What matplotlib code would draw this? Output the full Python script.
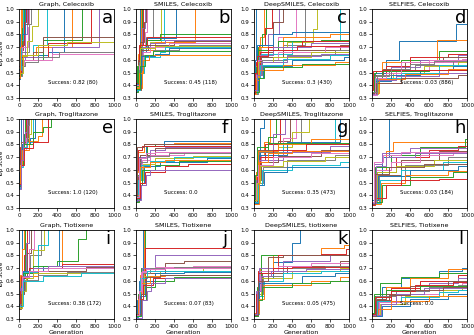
import matplotlib
matplotlib.use("Agg")
import matplotlib.pyplot as plt

# each run: list of [generation, top score] change points (step curves)
runs_a = [
    [[0, 0.45], [8, 0.55], [15, 0.62], [25, 0.78], [45, 1.0]],
    [[0, 0.50], [10, 0.60], [20, 0.70], [30, 1.0]],
    [[0, 0.48], [12, 0.58], [25, 0.65], [35, 0.85], [55, 1.0]],
    [[0, 0.52], [15, 0.62], [30, 0.72], [50, 0.90], [70, 1.0]],
    [[0, 0.50], [20, 0.60], [60, 0.80], [80, 1.0]],
    [[0, 0.47], [10, 0.58], [25, 0.68], [40, 0.88], [95, 1.0]],
    [[0, 0.55], [30, 0.70], [90, 0.86], [110, 1.0]],
    [[0, 0.50], [25, 0.66], [100, 0.88], [130, 1.0]],
    [[0, 0.52], [20, 0.63], [80, 0.75], [140, 0.87], [200, 1.0]],
    [[0, 0.50], [35, 0.62], [150, 0.72], [290, 1.0]],
    [[0, 0.55], [40, 0.60], [200, 0.64], [300, 0.66], [470, 1.0]],
    [[0, 0.50], [30, 0.64], [180, 0.70], [560, 1.0]],
    [[0, 0.48], [25, 0.60], [250, 0.76], [660, 1.0]],
    [[0, 0.50], [20, 0.62], [300, 0.73], [760, 1.0]],
    [[0, 0.52], [40, 0.62], [350, 0.70], [840, 1.0]],
    [[0, 0.50], [30, 0.60], [150, 0.66], [250, 0.78]],
    [[0, 0.55], [50, 0.60], [350, 0.65]],
    [[0, 0.47], [30, 0.55], [60, 0.58], [200, 0.62], [420, 0.66]],
    [[0, 0.50], [40, 0.64], [200, 0.72], [500, 0.74]],
    [[0, 0.53], [20, 0.76], [40, 1.0]],
    [[0, 0.50], [15, 0.80], [60, 1.0]],
    [[0, 0.46], [10, 0.70], [20, 1.0]],
]
runs_b = [
    [[0, 0.35], [10, 0.48], [20, 0.60], [40, 1.0]],
    [[0, 0.40], [12, 0.52], [25, 0.65], [50, 1.0]],
    [[0, 0.38], [15, 0.55], [30, 0.70], [60, 1.0]],
    [[0, 0.42], [18, 0.58], [35, 0.72], [70, 1.0]],
    [[0, 0.36], [20, 0.52], [40, 0.68], [60, 0.85], [90, 1.0]],
    [[0, 0.40], [25, 0.60], [45, 0.74], [80, 0.90], [110, 1.0]],
    [[0, 0.37], [25, 0.55], [50, 0.70], [90, 0.82], [120, 1.0]],
    [[0, 0.40], [30, 0.58], [60, 0.72], [100, 0.78], [180, 1.0]],
    [[0, 0.39], [25, 0.56], [50, 0.72], [150, 0.74], [260, 1.0]],
    [[0, 0.36], [35, 0.55], [70, 0.70], [120, 0.76], [290, 1.0]],
    [[0, 0.40], [45, 0.66], [100, 0.77], [420, 1.0]],
    [[0, 0.38], [60, 0.68], [200, 0.74], [620, 1.0]],
    [[0, 0.35], [25, 0.55], [50, 0.70], [100, 0.76], [250, 0.80]],
    [[0, 0.40], [40, 0.72], [120, 0.78]],
    [[0, 0.38], [30, 0.56], [60, 0.70], [150, 0.73], [300, 0.76]],
    [[0, 0.36], [55, 0.68], [130, 0.72], [400, 0.75]],
    [[0, 0.40], [35, 0.55], [70, 0.66], [150, 0.70], [350, 0.73]],
    [[0, 0.37], [30, 0.52], [60, 0.64], [180, 0.68], [450, 0.72]],
    [[0, 0.39], [40, 0.69], [200, 0.71]],
    [[0, 0.36], [40, 0.50], [80, 0.62], [250, 0.66], [300, 0.70]],
    [[0, 0.41], [50, 0.63], [200, 0.65], [350, 0.69]],
    [[0, 0.38], [35, 0.50], [70, 0.60], [140, 0.64]],
    [[0, 0.37], [45, 0.55], [90, 0.64], [180, 0.67]],
]
runs_c = [
    [[0, 0.35], [10, 0.60], [20, 1.0]],
    [[0, 0.33], [15, 0.50], [30, 0.65], [60, 0.78], [100, 1.0]],
    [[0, 0.36], [20, 0.55], [40, 0.70], [80, 0.80], [130, 1.0]],
    [[0, 0.34], [25, 0.58], [50, 0.72], [120, 0.85], [190, 1.0]],
    [[0, 0.35], [30, 0.55], [60, 0.68], [150, 0.80], [260, 1.0]],
    [[0, 0.33], [20, 0.52], [40, 0.66], [200, 0.90], [300, 1.0]],
    [[0, 0.36], [35, 0.58], [70, 0.70], [250, 0.78], [440, 1.0]],
    [[0, 0.34], [25, 0.50], [50, 0.62], [300, 0.72], [540, 1.0]],
    [[0, 0.35], [30, 0.56], [60, 0.70], [350, 0.74], [620, 0.84], [660, 1.0]],
    [[0, 0.33], [20, 0.52], [40, 0.65], [400, 0.75], [900, 1.0]],
    [[0, 0.35], [15, 0.55], [30, 0.72], [200, 0.80], [400, 0.82]],
    [[0, 0.34], [25, 0.55], [50, 0.70], [300, 0.78], [800, 0.80]],
    [[0, 0.36], [20, 0.54], [40, 0.68], [250, 0.75], [700, 0.76]],
    [[0, 0.33], [30, 0.52], [60, 0.66], [150, 0.70], [500, 0.75]],
    [[0, 0.35], [25, 0.50], [50, 0.64], [200, 0.70], [600, 0.73]],
    [[0, 0.34], [35, 0.50], [70, 0.62], [300, 0.68], [900, 0.72]],
    [[0, 0.36], [20, 0.48], [45, 0.60], [250, 0.66], [750, 0.70]],
    [[0, 0.33], [40, 0.48], [80, 0.60], [350, 0.64], [850, 0.68]],
    [[0, 0.35], [20, 0.46], [40, 0.58], [200, 0.62], [600, 0.66]],
    [[0, 0.34], [30, 0.46], [60, 0.56], [300, 0.61], [800, 0.64]],
    [[0, 0.36], [45, 0.46], [90, 0.55], [400, 0.60], [950, 0.62]],
    [[0, 0.33], [25, 0.44], [50, 0.52], [300, 0.56], [850, 0.58]],
    [[0, 0.35], [50, 0.46], [100, 0.54], [500, 0.57]],
    [[0, 0.34], [15, 0.50], [30, 0.63], [150, 0.68], [450, 0.71]],
    [[0, 0.36], [35, 0.48], [70, 0.58], [350, 0.63], [700, 0.65]],
]
runs_d = [
    [[0, 0.33], [30, 0.50], [150, 0.60], [280, 0.75], [880, 0.88]],
    [[0, 0.33], [20, 0.48], [100, 0.58], [680, 0.76]],
    [[0, 0.32], [20, 0.45], [100, 0.52], [300, 0.60], [700, 0.67]],
    [[0, 0.34], [30, 0.47], [150, 0.55], [400, 0.62], [800, 0.65]],
    [[0, 0.33], [40, 0.46], [200, 0.54], [500, 0.60], [900, 0.64]],
    [[0, 0.35], [25, 0.48], [120, 0.53], [350, 0.58], [750, 0.62]],
    [[0, 0.32], [50, 0.45], [250, 0.52], [600, 0.58], [950, 0.61]],
    [[0, 0.34], [35, 0.47], [180, 0.51], [450, 0.56], [850, 0.60]],
    [[0, 0.33], [60, 0.44], [220, 0.50], [550, 0.55], [900, 0.58]],
    [[0, 0.35], [45, 0.46], [300, 0.50], [700, 0.56]],
    [[0, 0.32], [30, 0.43], [200, 0.48], [500, 0.52], [850, 0.55]],
    [[0, 0.34], [70, 0.45], [350, 0.49], [800, 0.53]],
    [[0, 0.33], [20, 0.50], [40, 0.51], [600, 0.52]],
    [[0, 0.36], [10, 0.51], [100, 0.52]],
    [[0, 0.33], [50, 0.44], [250, 0.47], [700, 0.50]],
    [[0, 0.34], [40, 0.42], [300, 0.46], [900, 0.48]],
    [[0, 0.32], [30, 0.46], [150, 0.50], [300, 0.58], [600, 0.60]],
    [[0, 0.35], [55, 0.48], [200, 0.53], [400, 0.57], [650, 0.59]],
]
runs_e = [
    [[0, 0.45], [5, 0.58], [10, 0.70], [25, 1.0]],
    [[0, 0.50], [8, 0.62], [15, 0.75], [40, 1.0]],
    [[0, 0.48], [10, 0.60], [20, 0.72], [50, 0.88], [60, 1.0]],
    [[0, 0.50], [6, 0.64], [12, 0.78], [70, 1.0]],
    [[0, 0.46], [12, 0.62], [25, 0.80], [60, 0.90], [80, 1.0]],
    [[0, 0.50], [10, 0.66], [20, 0.82], [90, 1.0]],
    [[0, 0.47], [15, 0.62], [30, 0.76], [70, 0.85], [100, 1.0]],
    [[0, 0.49], [12, 0.64], [25, 0.80], [80, 0.95], [110, 1.0]],
    [[0, 0.50], [15, 0.64], [30, 0.77], [100, 0.88], [130, 1.0]],
    [[0, 0.46], [20, 0.62], [40, 0.78], [80, 0.82], [150, 1.0]],
    [[0, 0.48], [18, 0.64], [35, 0.80], [120, 0.85], [170, 1.0]],
    [[0, 0.50], [15, 0.64], [30, 0.76], [100, 0.83], [200, 0.87], [240, 1.0]],
    [[0, 0.47], [20, 0.64], [40, 0.80], [150, 0.90], [250, 0.94], [340, 1.0]],
    [[0, 0.49], [25, 0.64], [50, 0.77], [150, 0.82], [310, 1.0]],
    [[0, 0.45], [20, 0.68], [45, 1.0]],
]
runs_f = [
    [[0, 0.35], [15, 0.55], [30, 0.70], [100, 0.79], [290, 0.83]],
    [[0, 0.38], [12, 0.58], [25, 0.74], [80, 0.80], [400, 0.81]],
    [[0, 0.36], [20, 0.56], [40, 0.72], [120, 0.79], [200, 0.80]],
    [[0, 0.40], [10, 0.60], [20, 0.76], [60, 0.79]],
    [[0, 0.37], [25, 0.55], [50, 0.70], [150, 0.76], [300, 0.78]],
    [[0, 0.35], [20, 0.54], [45, 0.72], [200, 0.77]],
    [[0, 0.39], [30, 0.55], [60, 0.68], [150, 0.72], [500, 0.74]],
    [[0, 0.36], [35, 0.66], [120, 0.71], [350, 0.73]],
    [[0, 0.38], [35, 0.52], [70, 0.65], [200, 0.69], [600, 0.71]],
    [[0, 0.37], [25, 0.52], [50, 0.64], [150, 0.67], [400, 0.70]],
    [[0, 0.36], [40, 0.50], [80, 0.63], [250, 0.66], [750, 0.69]],
    [[0, 0.40], [40, 0.62], [150, 0.66], [300, 0.68]],
    [[0, 0.35], [30, 0.48], [60, 0.60], [200, 0.64], [450, 0.67]],
    [[0, 0.38], [45, 0.50], [90, 0.58], [300, 0.63], [550, 0.65]],
    [[0, 0.36], [50, 0.48], [100, 0.56], [150, 0.60]],
    [[0, 0.37], [15, 0.78], [80, 0.80]],
    [[0, 0.39], [30, 0.69], [100, 0.73], [200, 0.74]],
]
runs_g = [
    [[0, 0.35], [15, 0.55], [30, 0.70], [60, 0.93], [110, 1.0]],
    [[0, 0.33], [20, 0.55], [40, 0.72], [100, 0.82], [170, 1.0]],
    [[0, 0.36], [25, 0.58], [50, 0.74], [150, 0.86], [230, 1.0]],
    [[0, 0.34], [18, 0.52], [35, 0.68], [120, 0.80], [270, 1.0]],
    [[0, 0.35], [30, 0.55], [60, 0.70], [200, 0.88], [330, 1.0]],
    [[0, 0.33], [22, 0.56], [45, 0.76], [250, 0.83], [380, 1.0]],
    [[0, 0.36], [35, 0.58], [70, 0.72], [300, 0.85], [440, 1.0]],
    [[0, 0.34], [25, 0.56], [50, 0.74], [350, 0.80], [490, 1.0]],
    [[0, 0.35], [20, 0.52], [40, 0.66], [250, 0.78], [400, 0.90], [580, 1.0]],
    [[0, 0.33], [30, 0.52], [60, 0.70], [300, 0.80], [850, 1.0]],
    [[0, 0.36], [25, 0.56], [50, 0.72], [350, 0.82], [900, 1.0]],
    [[0, 0.35], [20, 0.58], [40, 0.75], [250, 0.80], [600, 0.84]],
    [[0, 0.34], [15, 0.56], [30, 0.78], [150, 0.81]],
    [[0, 0.33], [30, 0.54], [60, 0.70], [200, 0.76], [550, 0.80]],
    [[0, 0.36], [25, 0.52], [50, 0.68], [300, 0.74], [800, 0.79]],
    [[0, 0.35], [35, 0.52], [70, 0.66], [250, 0.71], [700, 0.76]],
    [[0, 0.34], [20, 0.50], [40, 0.64], [200, 0.70], [600, 0.73]],
    [[0, 0.33], [45, 0.50], [90, 0.62], [350, 0.68], [850, 0.72]],
    [[0, 0.36], [30, 0.50], [60, 0.63], [300, 0.67], [750, 0.70]],
    [[0, 0.35], [40, 0.48], [80, 0.60], [400, 0.64], [900, 0.66]],
    [[0, 0.34], [50, 0.48], [100, 0.58], [350, 0.62]],
    [[0, 0.33], [50, 0.66], [150, 0.73], [400, 0.75]],
]
runs_h = [
    [[0, 0.34], [30, 0.55], [100, 0.70], [180, 1.0]],
    [[0, 0.33], [40, 0.60], [150, 0.75], [220, 0.82]],
    [[0, 0.35], [30, 0.62], [200, 0.72], [500, 0.78], [980, 0.84]],
    [[0, 0.34], [50, 0.58], [250, 0.70], [600, 0.76], [900, 0.79]],
    [[0, 0.33], [20, 0.65], [100, 0.73], [400, 0.77]],
    [[0, 0.36], [60, 0.56], [300, 0.68], [700, 0.75]],
    [[0, 0.34], [40, 0.60], [200, 0.66], [500, 0.72], [850, 0.74]],
    [[0, 0.35], [70, 0.55], [350, 0.64], [800, 0.70]],
    [[0, 0.33], [50, 0.58], [250, 0.63], [650, 0.68]],
    [[0, 0.34], [80, 0.52], [300, 0.60], [750, 0.66]],
    [[0, 0.36], [60, 0.55], [400, 0.60], [900, 0.63]],
    [[0, 0.33], [90, 0.50], [350, 0.56], [800, 0.59]],
    [[0, 0.35], [100, 0.48], [400, 0.54], [850, 0.58]],
    [[0, 0.32], [30, 0.38], [150, 0.48], [300, 0.52], [700, 0.53]],
    [[0, 0.34], [45, 0.63], [150, 0.70], [450, 0.73]],
    [[0, 0.33], [35, 0.57], [180, 0.62], [550, 0.65]],
    [[0, 0.35], [25, 0.66], [120, 0.72], [300, 0.74]],
]
runs_i = [
    [[0, 0.40], [10, 0.60], [30, 1.0]],
    [[0, 0.42], [15, 0.65], [35, 0.85], [50, 1.0]],
    [[0, 0.38], [10, 0.50], [20, 0.62], [60, 1.0]],
    [[0, 0.40], [12, 0.52], [25, 0.64], [50, 0.80], [80, 1.0]],
    [[0, 0.41], [15, 0.54], [30, 0.66], [70, 0.90], [100, 1.0]],
    [[0, 0.39], [20, 0.60], [80, 0.82], [130, 1.0]],
    [[0, 0.40], [18, 0.55], [35, 0.68], [100, 0.85], [160, 1.0]],
    [[0, 0.42], [20, 0.55], [40, 0.66], [120, 0.80], [230, 1.0]],
    [[0, 0.38], [15, 0.50], [30, 0.64], [150, 0.84], [260, 1.0]],
    [[0, 0.40], [25, 0.55], [50, 0.67], [200, 0.88], [300, 1.0]],
    [[0, 0.41], [22, 0.56], [45, 0.68], [250, 0.72], [420, 1.0]],
    [[0, 0.39], [30, 0.64], [200, 0.70], [450, 1.0]],
    [[0, 0.40], [20, 0.54], [40, 0.66], [150, 0.72], [400, 0.76], [620, 0.93], [700, 1.0]],
    [[0, 0.40], [15, 0.52], [30, 0.62], [100, 0.70], [450, 0.73]],
    [[0, 0.41], [20, 0.54], [40, 0.64], [150, 0.70], [300, 0.72]],
    [[0, 0.38], [25, 0.50], [50, 0.60], [200, 0.68], [700, 0.71]],
    [[0, 0.40], [35, 0.63], [100, 0.68], [300, 0.70]],
    [[0, 0.42], [30, 0.52], [60, 0.61], [200, 0.65], [500, 0.67]],
    [[0, 0.39], [35, 0.52], [70, 0.62], [150, 0.66]],
    [[0, 0.40], [45, 0.60], [250, 0.64], [650, 0.66]],
]
runs_j = [
    [[0, 0.30], [15, 0.45], [30, 0.60], [70, 1.0]],
    [[0, 0.33], [20, 0.48], [40, 0.65], [80, 1.0]],
    [[0, 0.32], [25, 0.50], [50, 0.70], [90, 1.0]],
    [[0, 0.32], [20, 0.46], [40, 0.60], [90, 0.86]],
    [[0, 0.33], [30, 0.50], [60, 0.70], [200, 0.80]],
    [[0, 0.31], [25, 0.48], [50, 0.66], [300, 0.74], [500, 0.76]],
    [[0, 0.34], [30, 0.50], [60, 0.68], [200, 0.71], [600, 0.72]],
    [[0, 0.33], [35, 0.50], [70, 0.66], [150, 0.70], [400, 0.71]],
    [[0, 0.32], [40, 0.50], [80, 0.64], [250, 0.68], [700, 0.70]],
    [[0, 0.31], [20, 0.46], [40, 0.62], [120, 0.68]],
    [[0, 0.33], [45, 0.48], [90, 0.60], [200, 0.66], [500, 0.67]],
    [[0, 0.34], [25, 0.46], [50, 0.58], [150, 0.64], [300, 0.65]],
    [[0, 0.32], [50, 0.45], [100, 0.55], [200, 0.60], [400, 0.63]],
    [[0, 0.33], [35, 0.46], [70, 0.57], [180, 0.62]],
    [[0, 0.31], [60, 0.45], [120, 0.52], [160, 0.58], [300, 0.62]],
    [[0, 0.34], [50, 0.50], [100, 0.63], [250, 0.645], [400, 0.65]],
    [[0, 0.33], [30, 0.52], [55, 0.67], [100, 0.69], [300, 0.70]],
]
runs_k = [
    [[0, 0.33], [25, 0.50], [50, 0.62], [200, 0.75], [400, 0.90], [480, 1.0]],
    [[0, 0.34], [30, 0.52], [60, 0.70], [200, 0.80], [700, 0.86], [950, 0.88]],
    [[0, 0.33], [35, 0.55], [70, 0.80]],
    [[0, 0.32], [20, 0.50], [40, 0.68], [250, 0.80], [700, 0.81], [970, 0.85]],
    [[0, 0.34], [25, 0.52], [50, 0.70], [300, 0.76], [800, 0.80]],
    [[0, 0.33], [40, 0.52], [80, 0.66], [350, 0.72], [900, 0.76]],
    [[0, 0.35], [30, 0.52], [60, 0.68], [250, 0.72], [600, 0.74]],
    [[0, 0.32], [45, 0.50], [90, 0.64], [300, 0.70], [750, 0.72]],
    [[0, 0.33], [35, 0.48], [70, 0.62], [400, 0.68], [900, 0.70]],
    [[0, 0.34], [50, 0.48], [100, 0.60], [300, 0.66], [700, 0.68]],
    [[0, 0.33], [25, 0.46], [50, 0.58], [500, 0.64], [850, 0.66]],
    [[0, 0.35], [55, 0.46], [110, 0.57], [600, 0.60], [900, 0.63]],
    [[0, 0.32], [40, 0.45], [80, 0.55], [400, 0.58], [800, 0.60]],
    [[0, 0.33], [20, 0.50], [40, 0.66], [200, 0.70], [400, 0.71]],
    [[0, 0.34], [35, 0.52], [70, 0.64], [180, 0.68], [550, 0.69]],
    [[0, 0.33], [40, 0.60], [150, 0.79], [300, 0.80]],
]
runs_l = [
    [[0, 0.33], [30, 0.45], [100, 0.55], [300, 0.62], [700, 0.68], [950, 0.70]],
    [[0, 0.34], [40, 0.47], [150, 0.55], [400, 0.62], [800, 0.69]],
    [[0, 0.32], [20, 0.48], [80, 0.58], [300, 0.63], [700, 0.66]],
    [[0, 0.35], [50, 0.45], [200, 0.54], [500, 0.60], [900, 0.65]],
    [[0, 0.33], [60, 0.44], [250, 0.52], [600, 0.58], [900, 0.62]],
    [[0, 0.34], [30, 0.46], [150, 0.50], [400, 0.56], [800, 0.60]],
    [[0, 0.32], [70, 0.43], [300, 0.50], [700, 0.56], [950, 0.58]],
    [[0, 0.35], [40, 0.48], [250, 0.52], [600, 0.55], [900, 0.57]],
    [[0, 0.33], [80, 0.42], [350, 0.48], [750, 0.53], [950, 0.55]],
    [[0, 0.34], [50, 0.44], [300, 0.47], [700, 0.51], [900, 0.53]],
    [[0, 0.32], [100, 0.40], [400, 0.46], [800, 0.50]],
    [[0, 0.33], [60, 0.38], [200, 0.44], [600, 0.48]],
    [[0, 0.35], [20, 0.50], [150, 0.53], [500, 0.56]],
    [[0, 0.34], [35, 0.47], [200, 0.52], [450, 0.57], [850, 0.59]],
    [[0, 0.33], [90, 0.42], [250, 0.50], [550, 0.54]],
    [[0, 0.32], [45, 0.45], [180, 0.49], [400, 0.53], [750, 0.55]],
]

panel_runs = [runs_a, runs_b, runs_c, runs_d,
              runs_e, runs_f, runs_g, runs_h,
              runs_i, runs_j, runs_k, runs_l]
titles = ["Graph, Celecoxib", "SMILES, Celecoxib", "DeepSMILES, Celecoxib", "SELFIES, Celecoxib",
          "Graph, Troglitazone", "SMILES, Troglitazone", "DeepSMILES, Troglitazone", "SELFIES, Troglitazone",
          "Graph, Tiotixene", "SMILES, Tiotixene", "DeepSMILES, tiotixene", "SELFIES, Tiotixene"]
success = ["Success: 0.82 (80)", "Success: 0.45 (118)", "Success: 0.3 (430)", "Success: 0.03 (886)",
           "Success: 1.0 (120)", "Success: 0.0", "Success: 0.35 (473)", "Success: 0.03 (184)",
           "Success: 0.38 (172)", "Success: 0.07 (83)", "Success: 0.05 (475)", "Success: 0.0"]
letters = list("abcdefghijkl")
n_gen = 1000

W, H = 474, 335
lefts = [19, 136, 254, 372]
tops = [9, 119, 230]
aw, ah = 95, 89

fig = plt.figure(figsize=(W / 100, H / 100), dpi=100)

for idx, runs in enumerate(panel_runs):
    r, c = divmod(idx, 4)
    ax = fig.add_axes([lefts[c] / W, (H - tops[r] - ah) / H, aw / W, ah / H])
    for run in runs:
        gens = [p[0] for p in run]
        vals = [p[1] for p in run]
        # unfinished runs keep their best score until the last generation
        if vals[-1] < 1.0:
            gens.append(n_gen)
            vals.append(vals[-1])
        ax.step(gens, vals, where='post', lw=0.7)
    ax.set_xlim(0, 1000)
    ax.set_ylim(0.3, 1.0)
    ax.set_xticks(range(0, 1001, 200))
    ax.set_yticks([0.3, 0.4, 0.5, 0.6, 0.7, 0.8, 0.9, 1.0])
    ax.tick_params(labelsize=4, length=2, width=0.5, pad=1.5)
    for s in ax.spines.values():
        s.set_linewidth(0.6)
    ax.set_title(titles[idx], fontsize=4.6, pad=2)
    ax.text(300, 0.42, success[idx], fontsize=3.9, va='center')
    ax.text(0.93, 0.9, letters[idx], transform=ax.transAxes, fontsize=13,
            ha='center', va='center')
    if c == 0:
        ax.set_ylabel("Top Score", fontsize=4, labelpad=1)
    if r == 2:
        ax.set_xlabel("Generation", fontsize=4.5, labelpad=1)

fig.savefig("out.png", dpi=100)
